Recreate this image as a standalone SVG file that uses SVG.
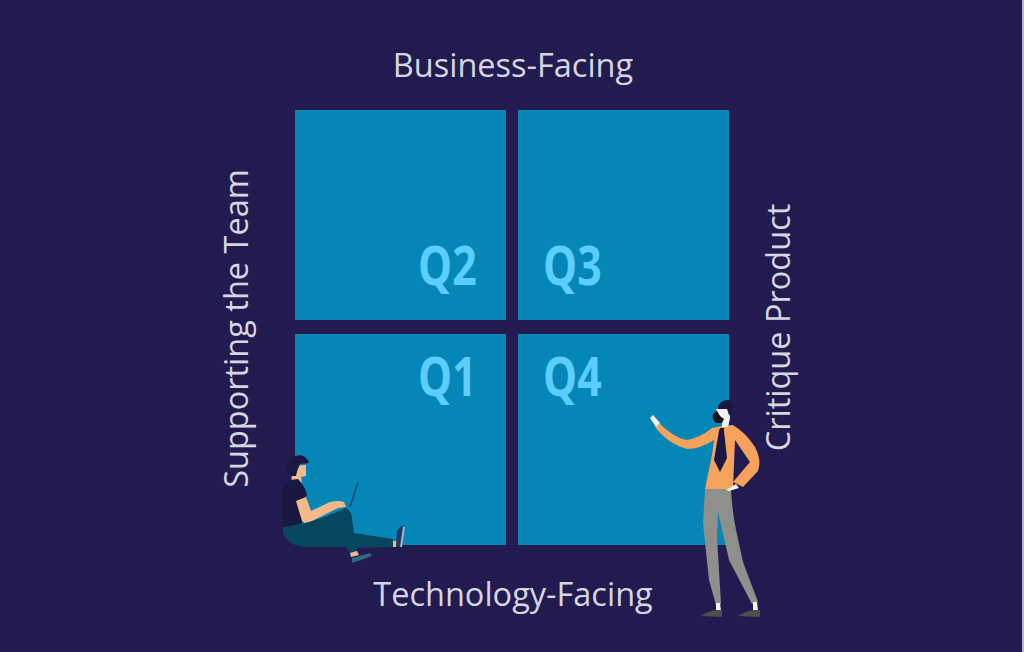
<svg xmlns="http://www.w3.org/2000/svg" width="1024" height="652" viewBox="0 0 1024 652">
  <defs>
    <style>
      .tile { fill: #0486b6; }
      .axis { font-family: "Open Sans", "Noto Sans", sans-serif; font-size: 32.5px; fill: #d6d6e0; text-anchor: middle; }
      .quad { font-family: "Open Sans", "Noto Sans", sans-serif; font-size: 53px; font-weight: 700; fill: #5ccdff; }
      .skin { fill: #f6b98a; }
      .navy { fill: #1a1742; }
      .teal { fill: #07465f; }
      .orange { fill: #f4a25c; }
      .grey { fill: #8f8f8c; }
      .white { fill: #f2f2f2; }
      .shoe { fill: #4d4e45; }
    </style>
  </defs>
  <rect width="1024" height="652" fill="#211b4f"/>
  <rect x="1022" width="2" height="652" fill="#b9b6cc"/>

  <!-- Quadrant grid -->
  <g id="q2"><rect class="tile" x="295" y="110" width="211" height="210"/><text class="quad" transform="translate(418 285) scale(.81 1)">Q2</text></g>
  <g id="q3"><rect class="tile" x="518" y="110" width="211" height="210"/><text class="quad" transform="translate(543 285) scale(.81 1)">Q3</text></g>
  <g id="q1"><rect class="tile" x="295" y="334" width="211" height="211"/><text class="quad" transform="translate(418 396) scale(.81 1)">Q1</text></g>
  <g id="q4"><rect class="tile" x="518" y="334" width="211" height="211"/><text class="quad" transform="translate(543 396) scale(.81 1)">Q4</text></g>

  <!-- Axis labels -->
  <g id="label-top"><text class="axis" x="513" y="77">Business-Facing</text></g>
  <g id="label-bottom"><text class="axis" x="513" y="606">Technology-Facing</text></g>
  <g id="label-left"><text class="axis" transform="translate(248 328.5) rotate(-90)">Supporting the Team</text></g>
  <g id="label-right"><text class="axis" transform="translate(790 327.5) rotate(-90)">Critique Product</text></g>

  <!-- Seated figure with laptop -->
  <g id="seated-person">
    <path d="M358 482 L350 507" stroke="#2a3f73" stroke-width="1.3" fill="none"/>
    <path class="skin" d="M293 466 L306 465 L306 476 L301 477 L302 483 L291 483 Z"/>
    <path class="navy" d="M287 463 Q291 456 300 455 Q307 456 309 463 L300 464 Q297 470 296 476 L292 476 Q286 470 287 463 Z"/>
    <path class="navy" d="M281 495 Q283 483 290 480 L298 479 Q305 486 307 495 L303 502 L302 524 L283 527 Z"/>
    <path class="skin" d="M296 501 L306 497 L311 511 L330 502 Q338 500 344 502 L346 507 L338 508 L310 522 L305 523 L302 521 Z"/>
    <path class="teal" d="M283 527 L302 524 Q325 518 345 508 Q352 510 352 519 L354 533 L393 539 L393 547 L357 548 L358 552 L350 554 L346 547 L304 547 Q288 545 283 533 Z"/>
    <path class="skin" d="M350 553 L357 551 L359 555 L351 557 Z"/>
    <path d="M352 558 L370 553 L372 556 L352 563 Z" fill="#2b6a80"/>
    <path class="skin" d="M393 541 L397 541 L396 547 L393 547 Z"/>
    <path d="M397 531 L401 526 L405 527 L402 547 L396 546 Z" fill="#203a66"/>
    <path d="M403 527 L405 527 L402 547 L400 547 Z" fill="#a6bcc4"/>
  </g>

  <!-- Standing figure pointing at the grid -->
  <g id="standing-person">
    <path class="grey" d="M705 489 L731 489 Q732 510 736 530 L743 562 L758 602 L752 604 L729 560 L718 512 L717 537 L721 604 L716 605 L709 580 L703 523 Z"/>
    <path class="white" d="M716 603 L720 603 L721 611 L716 611 Z"/>
    <path class="white" d="M753 602 L757 602 L758 611 L753 611 Z"/>
    <path class="shoe" d="M701 616 Q708 611 716 610 L722 610 L722 617 Z"/>
    <path class="shoe" d="M738 616 Q746 611 753 610 L760 610 L760 617 Z"/>
    <path class="orange" d="M655 427 L659 423 Q673 437 686 440 Q700 438 712 428 L722 426 L733 425 Q746 433 755 447 Q762 460 758 471 L743 487 L737 484 L733 482 L750 462 L735 440 L733 489 L705 489 L712 455 L714 440 Q700 449 687 449 Q668 444 655 427 Z"/>
    <path class="white" d="M650 418 L653 415 L660 423 L656 427 Z"/>
    <path class="white" d="M726 490 L736 484 L739 488 L729 491 Z"/>
    <path class="white" d="M716 409 L729 408 L730 418 L728 427 L722 427 L722 421 Z"/>
    <path class="navy" d="M718 406 Q722 399 729 400 Q734 405 732 414 L729 415 L727 409 L718 409 Z"/>
    <path d="M713 414 L717 411 L720 416 L724 419 L722 423 L716 423 Q712 420 713 414 Z" fill="#14131f"/>
    <path class="navy" d="M720 428 L724 428 L724 431 L727 458 L720 472 L714 460 L719 431 Z"/>
  </g>
</svg>
